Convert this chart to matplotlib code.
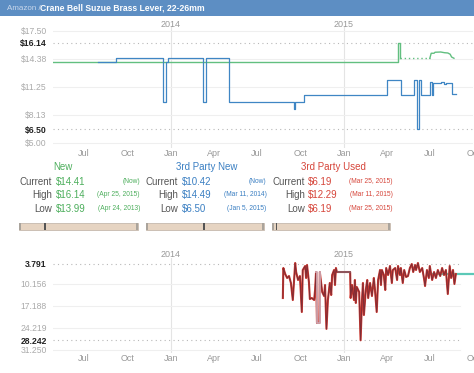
import pandas as pd
import matplotlib
matplotlib.use("Agg")
import matplotlib.pyplot as plt
import matplotlib.dates as mdates
from matplotlib.patches import Rectangle

plt.rcParams["font.family"] = ["Liberation Sans", "DejaVu Sans"]

# ---------------- price history (top chart) ----------------
new_dates = ["2013-04-24", "2015-04-24", "2015-04-30"]
new_prices = [13.99, 16.14, 14.41]
new_gap_dates = ["2015-04-30", "2015-07-01"]
new_gap_prices = [14.41, 14.41]
new_recent_dates = ["2015-07-01", "2015-07-04", "2015-07-10", "2015-07-12", "2015-07-24",
                    "2015-08-01", "2015-08-08", "2015-08-13", "2015-08-16", "2015-08-21"]
new_recent_prices = [14.41, 14.98, 14.98, 15.09, 15.12, 15.04, 15.01, 14.87, 14.56, 14.42]

tpn_dates = ["2013-07-31", "2013-09-07", "2013-12-15", "2013-12-21", "2013-12-26",
             "2014-03-09", "2014-03-15", "2014-05-03", "2014-09-17", "2014-09-20",
             "2014-10-09", "2015-04-01", "2015-05-01", "2015-05-29", "2015-06-03",
             "2015-06-08", "2015-06-12", "2015-07-01", "2015-07-06", "2015-07-08",
             "2015-07-25", "2015-07-31", "2015-08-04", "2015-08-17", "2015-08-25"]
tpn_prices = [13.99, 14.49, 9.56, 13.99, 14.49, 9.56, 14.49, 9.56, 8.8, 9.56,
              10.3, 11.95, 10.3, 11.95, 6.5, 11.95, 10.3, 11.74, 10.3, 11.65,
              11.72, 11.6, 11.68, 10.42, 10.42]

price_ticks = [17.50, 16.14, 14.38, 11.25, 8.13, 6.50, 5.00]
price_marked = [16.14, 6.50]

# ---------------- sales rank (bottom chart) ----------------
# days counted from 2015-01-01
rank_days = [-129, -128, -124, -120, -116, -112, -108, -103, -101, -97, -93, -89, -87, -82,
             -80, -78, -74, -72, -68, -63, -61, -59, -57, -52, -51, -46, -42, -40, -37, -34,
             -30, -27, -25, -21, -19, -17, -15, -13, 13, 14, 17, 21, 23, 25, 27, 32, 35, 38,
             40, 42, 46, 49, 51, 55, 59, 63, 65, 69, 72, 76, 78, 80, 84, 87, 89, 93, 97, 101,
             103, 108, 112, 114, 118, 120, 124, 127, 131, 135, 139, 143, 146, 150, 152, 156,
             160, 165, 169, 171, 175, 179, 181, 186, 190, 194, 198, 203, 207, 211, 215, 219,
             223, 226, 230, 233, 236]
rank_values = [14.73, 5.14, 7.06, 8.33, 7.70, 9.93, 15.37, 3.54, 6.42, 8.97, 7.70, 19.2, 5.78, 4.50,
               8.33, 4.18, 9.61, 15.05, 14.73, 15.37, 12.17, 6.42, 22.7, 22.7, 6.42, 12.81, 14.09,
               10.57, 24.6, 15.37, 9.93, 13.77, 7.38, 5.78, 10.57, 5.14, 6.42, 6.42, 6.42, 14.73,
               10.57, 15.37, 8.97, 16.32, 11.21, 12.81, 28.24, 15.37, 9.93, 20.16, 12.17, 8.97,
               14.73, 9.93, 14.09, 8.33, 11.53, 19.2, 8.97, 5.78, 10.57, 5.78, 7.38, 12.17, 5.14,
               7.38, 4.50, 9.93, 5.78, 5.14, 8.97, 4.50, 7.38, 5.14, 9.93, 5.78, 8.01, 7.70, 5.14,
               3.86, 6.42, 4.18, 5.78, 3.54, 6.42, 5.14, 8.65, 10.89, 5.78, 8.33, 4.50, 8.97, 6.42,
               8.33, 5.78, 7.70, 5.14, 7.38, 5.78, 13.45, 4.50, 8.33, 5.78, 10.25, 7.06]
rank_pale_days = [-59, -57, -52, -51]
rank_pale_values = [6.42, 22.7, 22.7, 6.42]
rank_flat_days = [-13, 13]
rank_flat_values = [6.42, 6.42]
rank_new_dates = ["2015-07-01", "2015-10-05"]
rank_new_values = [7.06, 7.06]

rank_ticks = [3.791, 10.156, 17.188, 24.219, 28.242, 31.250]
rank_labels = ["3.791", "10.156", "17.188", "24.219", "28.242", "31.250"]
rank_marked = [3.791, 28.242]

# ---------------- statistics table ----------------
col_titles = ["New", "3rd Party New", "3rd Party Used"]
col_colors = ["#4cae5c", "#3a7fc2", "#d6453a"]
row_names = ["Current", "High", "Low"]
stat_values = [["$14.41", "$16.14", "$13.99"],
               ["$10.42", "$14.49", "$6.50"],
               ["$6.19", "$12.29", "$6.19"]]
stat_dates = [["(Now)", "(Apr 25, 2015)", "(Apr 24, 2013)"],
              ["(Now)", "(Mar 11, 2014)", "(Jan 5, 2015)"],
              ["(Mar 25, 2015)", "(Mar 11, 2015)", "(Mar 25, 2015)"]]

W, H = 474, 373
fig = plt.figure(figsize=(W / 100, H / 100), dpi=100)

# pixel overlay for the header, table and sliders
bg = fig.add_axes([0, 0, 1, 1])
bg.set_xlim(0, W)
bg.set_ylim(H, 0)
bg.axis("off")

bg.add_patch(Rectangle((0, 0), W, 16, color="#5d8ec3", lw=0))
bg.text(7, 8, "Amazon /", color="#c9d8ec", fontsize=5.8, va="center")
bg.text(40, 8, "Crane Bell Suzue Brass Lever, 22-26mm", color="white",
        fontsize=6.2, fontweight="bold", va="center")

head_x = [63, 206.7, 333]
label_right = [52.3, 178.3, 305]
value_left = [55.7, 182.3, 308.3]
date_right = [140, 266.7, 392.7]
row_y = [181.7, 195, 208.7]
for c in range(3):
    bg.text(head_x[c], 167, col_titles[c], color=col_colors[c], fontsize=7,
            ha="center", va="center")
    for r in range(3):
        bg.text(label_right[c], row_y[r], row_names[r], color="#555555", fontsize=7,
                ha="right", va="center")
        bg.text(value_left[c], row_y[r], stat_values[c][r], color=col_colors[c],
                fontsize=7, ha="left", va="center")
        bg.text(date_right[c], row_y[r], stat_dates[c][r], color=col_colors[c],
                fontsize=4.8, ha="right", va="center")

sliders = [(19.3, 137.7, 45), (146, 264, 204), (272.3, 390.5, 276.7)]
for x0, x1, hx in sliders:
    bg.add_patch(Rectangle((x0, 222.7), x1 - x0, 7, facecolor="#e6d4c2",
                           edgecolor="#c5b9ad", lw=0.6))
    bg.add_patch(Rectangle((x0, 222.7), 2, 7, color="#aaa49c", lw=0))
    bg.add_patch(Rectangle((x1 - 2, 222.7), 2, 7, color="#aaa49c", lw=0))
    bg.add_patch(Rectangle((hx - 0.6, 222.7), 1.2, 7, color="#555555", lw=0))

# shared date scale
jan15 = mdates.date2num(pd.Timestamp("2015-01-01"))
ppd = 173 / 365
xlim = (jan15 - 291 / ppd, jan15 + 130 / ppd)
years = [pd.Timestamp("2014-01-01"), pd.Timestamp("2015-01-01")]


def style_axis(ax):
    ax.set_facecolor("none")
    for s in ax.spines.values():
        s.set_visible(False)
    ax.set_xlim(*xlim)
    ax.xaxis.set_major_locator(mdates.MonthLocator(bymonth=(1, 4, 7, 10)))
    ax.xaxis.set_major_formatter(mdates.DateFormatter("%b"))
    ax.tick_params(axis="x", length=0, pad=1.0, labelsize=6.5, labelcolor="#999999")
    ax.tick_params(axis="y", length=0, pad=4.5, labelsize=6.2, labelcolor="#aaaaaa")
    for y in years:
        ax.axvline(y, color="#e4e4e4", lw=0.8, zorder=0)


# ---- top: prices ----
ax1 = fig.add_axes([53 / W, 1 - 148 / H, 421 / W, 122 / H])
style_axis(ax1)
ax1.set_ylim(4.41, 18.02)
for v in price_ticks:
    if v in price_marked:
        ax1.axhline(v, xmax=0.995, color="#b8b8b8", lw=0.8, ls=(0, (1, 3)), zorder=0)
    else:
        ax1.axhline(v, xmax=0.995, color="#efefef", lw=0.8, zorder=0)
ax1.set_yticks(price_ticks)
ax1.set_yticklabels([f"${v:.2f}" for v in price_ticks])
for lab, v in zip(ax1.get_yticklabels(), price_ticks):
    if v in price_marked:
        lab.set_color("#222222")
        lab.set_fontweight("bold")
for y in years:
    ax1.text(y, 1.016, str(y.year), transform=ax1.get_xaxis_transform(),
             ha="center", va="center", fontsize=6.5, color="#999999")

ax1.plot(pd.to_datetime(new_dates), new_prices, drawstyle="steps-post",
         color="#62bf80", lw=1.0)
ax1.plot(pd.to_datetime(new_gap_dates), new_gap_prices, color="#62bf80", lw=1.0,
         ls=(0, (1, 2)))
ax1.plot(pd.to_datetime(new_recent_dates), new_recent_prices, color="#62bf80", lw=1.0)
ax1.plot(pd.to_datetime(tpn_dates), tpn_prices, drawstyle="steps-post",
         color="#3f86c4", lw=0.9)

# ---- bottom: sales rank ----
ax2 = fig.add_axes([53 / W, 1 - 353 / H, 421 / W, 95 / H])
style_axis(ax2)
ax2.set_ylim(32.3, 1.94)
for v in rank_ticks:
    if v in rank_marked:
        ax2.axhline(v, xmax=0.967, color="#b8b8b8", lw=0.8, ls=(0, (1, 3)), zorder=0)
    else:
        ax2.axhline(v, xmax=0.967, color="#efefef", lw=0.8, zorder=0)
ax2.set_yticks(rank_ticks)
ax2.set_yticklabels(rank_labels)
for lab, v in zip(ax2.get_yticklabels(), rank_ticks):
    if v in rank_marked:
        lab.set_color("#222222")
        lab.set_fontweight("bold")
for y in years:
    ax2.text(y, 1.042, str(y.year), transform=ax2.get_xaxis_transform(),
             ha="center", va="center", fontsize=6.5, color="#999999")

base = pd.Timestamp("2015-01-01")
rank_x = base + pd.to_timedelta(rank_days, unit="D")
ax2.plot(pd.to_datetime(rank_new_dates), rank_new_values, color="#5cc9b7", lw=1.6, zorder=2)
ax2.plot(rank_x, rank_values, color="#d2392f", lw=1.5, zorder=3)
ax2.plot(rank_x, rank_values, color="#7e2d36", lw=0.7, zorder=4)
ax2.plot(base + pd.to_timedelta(rank_pale_days, unit="D"), rank_pale_values,
         drawstyle="steps-post", color="#cfa4ad", lw=1.3, zorder=5)
ax2.plot(base + pd.to_timedelta(rank_flat_days, unit="D"), rank_flat_values,
         color="#86606a", lw=1.1, zorder=5)

fig.savefig("out.png", dpi=100)
